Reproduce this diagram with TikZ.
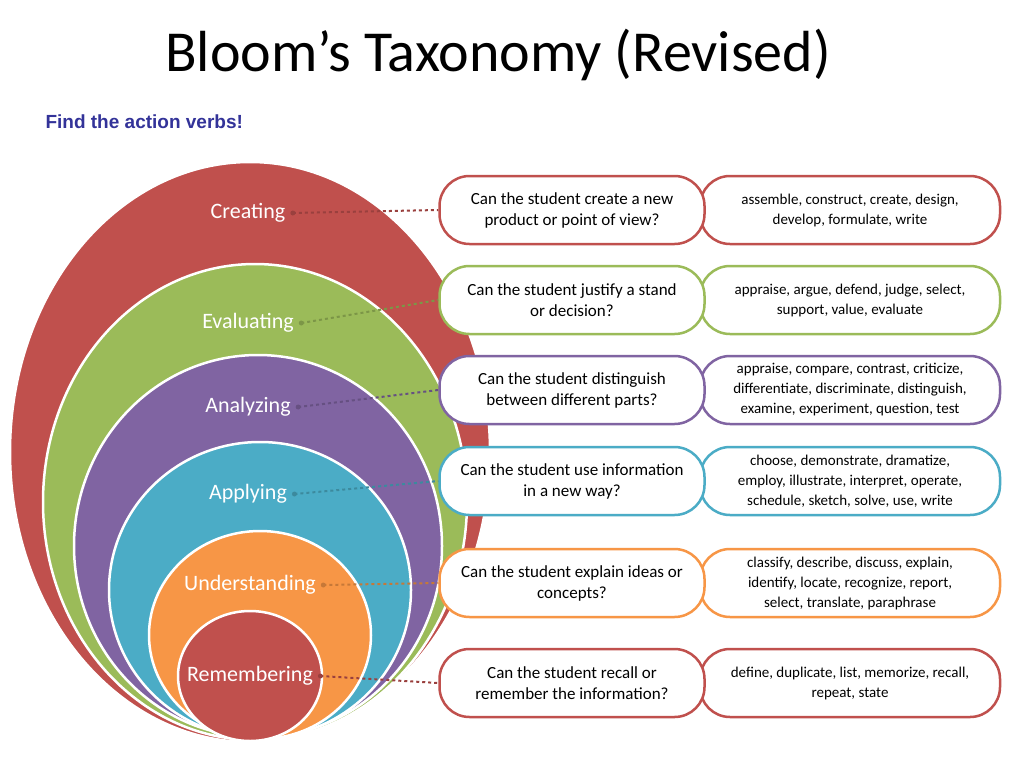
\documentclass[tikz,border=0pt]{standalone}
\usepackage{fontspec}
\setmainfont{Carlito}
\newfontfamily\arialf{Liberation Sans}
\definecolor{cred}{HTML}{C0504D}
\definecolor{cgreen}{HTML}{9BBB59}
\definecolor{cpurple}{HTML}{8064A2}
\definecolor{cteal}{HTML}{4BACC6}
\definecolor{corange}{HTML}{F79646}
\definecolor{cblue}{HTML}{333399}
\begin{document}
\begin{tikzpicture}[x=1pt,y=-1pt,
  lvl/.style={draw=white,line width=2.5pt},
  lab/.style={text=white,font=\fontsize{22}{24}\selectfont},
  qbox/.style={draw=#1,line width=2.5pt,fill=white,rounded corners=30pt,minimum width=265pt,minimum height=68pt,align=center,font=\fontsize{17}{21}\selectfont},
  vbox/.style={draw=#1,line width=2.5pt,fill=white,rounded corners=30pt,minimum width=300pt,minimum height=68pt,align=center,font=\fontsize{15}{20}\selectfont},
  conn/.style={draw=#1,dashed,line width=2pt}]
\useasboundingbox (0,0) rectangle (1024,768);
\fill[white] (0,0) rectangle (1024,768);
\node[font=\fontsize{58}{62}\selectfont] (title) at (498,55) {Bloom's Taxonomy (Revised)};
\node[anchor=west,text=cblue,font=\arialf\bfseries\fontsize{19}{22}\selectfont] (sub) at (42,122) {Find the action verbs!};
% ellipses
\fill[cred,lvl] (250,452) ellipse (240pt and 290pt);
\fill[cgreen,lvl] (255,502) ellipse (212pt and 238pt);
\fill[cpurple,lvl] (258,546) ellipse (184pt and 191pt);
\fill[cteal,lvl] (260,590) ellipse (151pt and 148pt);
\fill[corange,lvl] (260,635) ellipse (111pt and 104pt);
\fill[cred,lvl] (250,676) ellipse (72pt and 65pt);
\node[lab] (l1) at (248,213) {Creating};
\node[lab] (l2) at (248,323) {Evaluating};
\node[lab] (l3) at (248,407) {Analyzing};
\node[lab] (l4) at (248,494) {Applying};
\node[lab] (l5) at (250,585) {Understanding};
\node[lab] (l6) at (250,676) {Remembering};
% boxes
\node[vbox=cred] (v1) at (850,210) {assemble, construct, create, design,\\develop, formulate, write};
\node[qbox=cred] (q1) at (572,210) {Can the student create a new\\product or point of view?};
\node[vbox=cgreen] (v2) at (850,300) {appraise, argue, defend, judge, select,\\support, value, evaluate};
\node[qbox=cgreen] (q2) at (572,300) {Can the student justify a stand\\or decision?};
\node[vbox=cpurple] (v3) at (850,390) {appraise, compare, contrast, criticize,\\differentiate, discriminate, distinguish,\\examine, experiment, question, test};
\node[qbox=cpurple] (q3) at (572,390) {Can the student distinguish\\between different parts?};
\node[vbox=cteal] (v4) at (850,481) {choose, demonstrate, dramatize,\\employ, illustrate, interpret, operate,\\schedule, sketch, solve, use, write};
\node[qbox=cteal] (q4) at (572,481) {Can the student use information\\in a new way?};
\node[vbox=corange] (v5) at (850,583) {classify, describe, discuss, explain,\\identify, locate, recognize, report,\\select, translate, paraphrase};
\node[qbox=corange] (q5) at (572,583) {Can the student explain ideas or\\concepts?};
\node[vbox=cred] (v6) at (850,683) {define, duplicate, list, memorize, recall,\\repeat, state};
\node[qbox=cred] (q6) at (572,683) {Can the student recall or\\remember the information?};
% connectors
\foreach \i/\c in {1/cred,2/cgreen,3/cpurple,4/cteal,5/corange,6/cred}{
  \coordinate (s\i) at ([xshift=4pt]l\i.east);
  \draw[conn=\c!80!black] (s\i) -- (q\i.west);
  \fill[\c!80!black] (s\i) circle (2.5pt);
}
\end{tikzpicture}
\end{document}
